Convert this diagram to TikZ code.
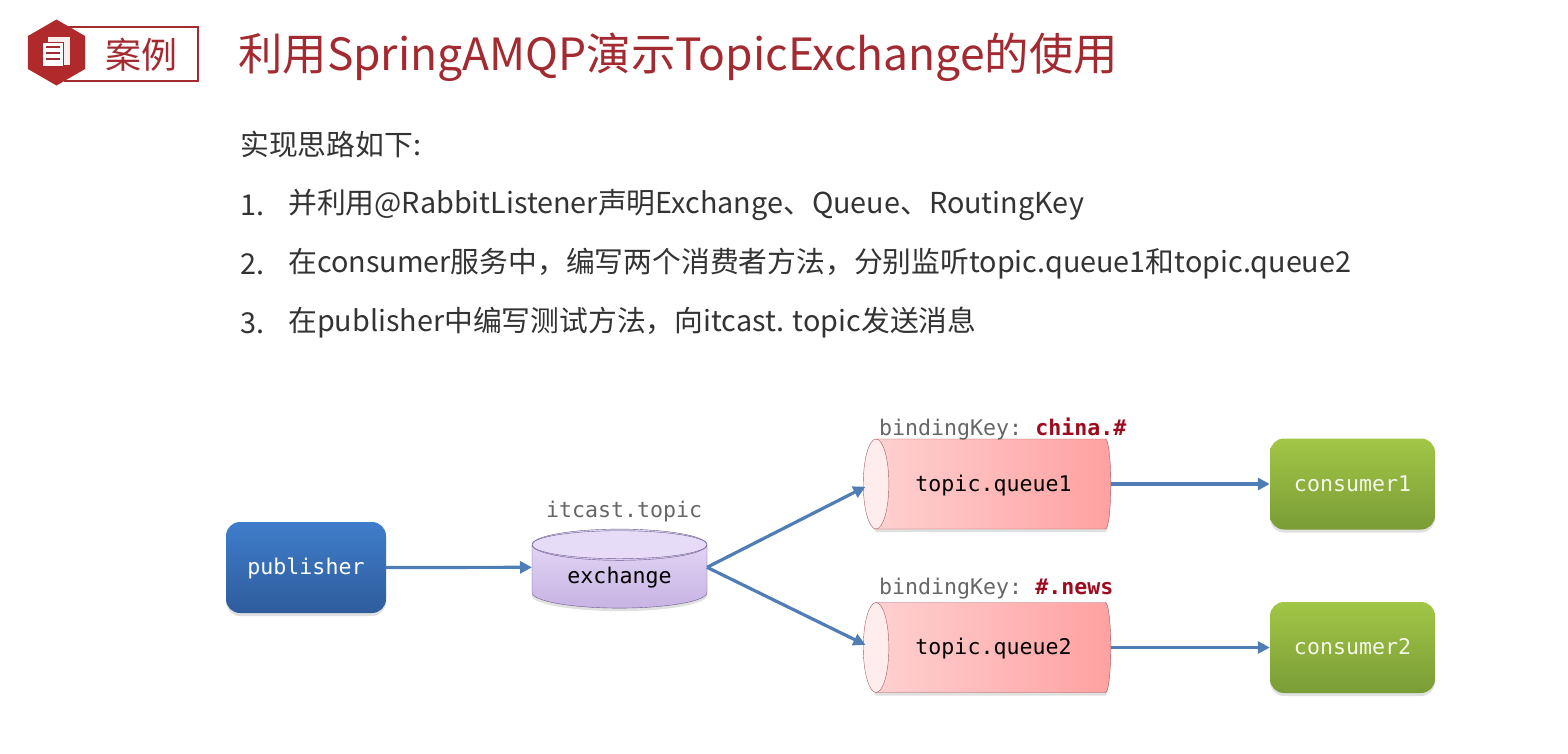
\documentclass[tikz,border=0pt]{standalone}
\usepackage{fontspec}
\setmainfont{Noto Sans CJK SC}
\setmonofont{DejaVu Sans Mono}
\usetikzlibrary{arrows.meta,shapes.geometric,shadows}
\definecolor{titlered}{HTML}{A32A30}
\definecolor{hexred}{HTML}{B02A2C}
\definecolor{bodygrey}{HTML}{333333}
\definecolor{labelgrey}{HTML}{666666}
\definecolor{keyred}{HTML}{9E0B1F}
\definecolor{linkblue}{HTML}{4F7DB5}
\definecolor{pubtop}{HTML}{3F7DCB}
\definecolor{pubbot}{HTML}{2F5C9C}
\definecolor{contop}{HTML}{A2C646}
\definecolor{conbot}{HTML}{7A9C36}
\definecolor{exchtop}{HTML}{E6DCF7}
\definecolor{exchbot}{HTML}{C8B3E4}
\definecolor{exchline}{HTML}{6A5A8C}
\definecolor{queueline}{HTML}{A85A60}
\tikzset{
    softshadow/.style={drop shadow={shadow xshift=0pt,shadow yshift=-3pt,opacity=.12,fill=black}},
    monotext/.style={font=\ttfamily\fontsize{21.6}{24}\selectfont,text height=15pt,text depth=5pt},
    lowtext/.style={monotext,text height=17pt,text depth=3pt},
    roundbox/.style={rectangle,rounded corners=14pt,minimum width=160pt,minimum height=91pt,inner sep=0pt,lowtext,softshadow},
    pubbox/.style={roundbox,top color=pubtop,bottom color=pubbot,text=white},
    conbox/.style={roundbox,minimum width=165pt,top color=contop,bottom color=conbot,text=white!88!contop},
    queuebox/.style={cylinder,shape border rotate=180,shape aspect=.53,aspect=.53,draw=queueline,outer sep=0pt,
        minimum height=240pt,minimum width=90pt,inner sep=0pt,left color=red!18,right color=red!37,
        lowtext,text=black,softshadow},
    queuecap/.style={draw=queueline,fill=red!7},
    exchcap/.style={draw=exchline,fill=exchtop},
    keylabel/.style={anchor=west,inner sep=0pt,text=labelgrey,monotext},
    stepline/.style={anchor=west,inner sep=0pt,text=bodygrey,font=\fontsize{28.8}{34}\selectfont},
    link/.style={draw=linkblue,line width=3.2pt,-{Triangle[length=12pt,width=12pt]}},
}
\begin{document}
\begin{tikzpicture}[x=1pt,y=-1pt]
    \useasboundingbox (0,0) rectangle (1568,753);
    %% Badge
    \node[draw=titlered,line width=2pt,minimum width=133pt,minimum height=54pt,inner sep=0pt] (badgebox) at (131.5,54) {};
    \node[regular polygon,regular polygon sides=6,shape border rotate=30,fill=hexred,minimum size=66pt,inner sep=0pt] (badgehex) at (56.5,52.5) {};
    \node[text=titlered,inner sep=0pt,font=\fontsize{36}{40}\selectfont] (badgetext) at (141,55) {案例};
    \fill[white!92!titlered] (48,37) rectangle (70,65);
    \draw[titlered,fill=white] (42,42) rectangle (63,66);
    \foreach \y in {47,53,59}
        \draw[titlered,line width=1.5pt] (46,\y) -- (60,\y);
    %% Text
    \node[anchor=west,inner sep=0pt,text=titlered,font=\fontsize{44.4}{50}\selectfont] (title) at (238,57.5) {利用SpringAMQP演示TopicExchange的使用};
    \node[stepline] (intro) at (240,144.5) {实现思路如下:};
    \node[stepline] (num1) at (240,205) {1.};
    \node[stepline] (step1) at (288,205) {并利用@RabbitListener声明Exchange、Queue、RoutingKey};
    \node[stepline] (num2) at (240,264) {2.};
    \node[stepline] (step2) at (288,264) {在consumer服务中，编写两个消费者方法，分别监听topic.queue1和topic.queue2};
    \node[stepline] (num3) at (240,323) {3.};
    \node[stepline] (step3) at (288,323) {在publisher中编写测试方法，向itcast. topic发送消息};
    %% Graph
    \node[pubbox] (publisher) at (306,567.5) {publisher};
    \node[cylinder,shape border rotate=90,shape aspect=.3,aspect=.3,draw=exchline,outer sep=0pt,
        minimum width=175pt,minimum height=79pt,inner sep=0pt,top color=exchtop,bottom color=exchbot,
        lowtext,text=black,softshadow] (exchange) at (619.5,576.5) {exchange};
    \node[queuebox] (queue1) at (993.5,484) {topic.queue1};
    \node[queuebox] (queue2) at (993.5,647.5) {topic.queue2};
    \node[conbox] (consumer1) at (1352.5,484) {consumer1};
    \node[conbox] (consumer2) at (1352.5,647.5) {consumer2};
    %% Caps
    \draw[exchcap] (exchange.before top) arc[start angle=180,delta angle=360,x radius=87.5,y radius=14];
    \draw[queuecap] (queue1.after top) arc[start angle=-90,delta angle=360,x radius=12.8,y radius=45];
    \draw[queuecap] (queue2.after top) arc[start angle=-90,delta angle=360,x radius=12.8,y radius=45];
    %% Labels
    \node[keylabel] (topiclabel) at (546,512) {itcast.topic};
    \node[keylabel] (key1) at (879,430) {bindingKey: \textcolor{keyred}{\bfseries china.\#}};
    \node[keylabel] (key2) at (879,589) {bindingKey: \textcolor{keyred}{\bfseries \#.news}};
    %% Links
    \draw[link] (publisher.east) -- (exchange.174);
    \draw[link,shorten >=6pt] (exchange.6) -- (queue1.west);
    \draw[link,shorten >=6pt] (exchange.6) -- (queue2.west);
    \draw[link] (queue1.east) -- (consumer1.west);
    \draw[link] (queue2.east) -- (consumer2.west);
\end{tikzpicture}
\end{document}
